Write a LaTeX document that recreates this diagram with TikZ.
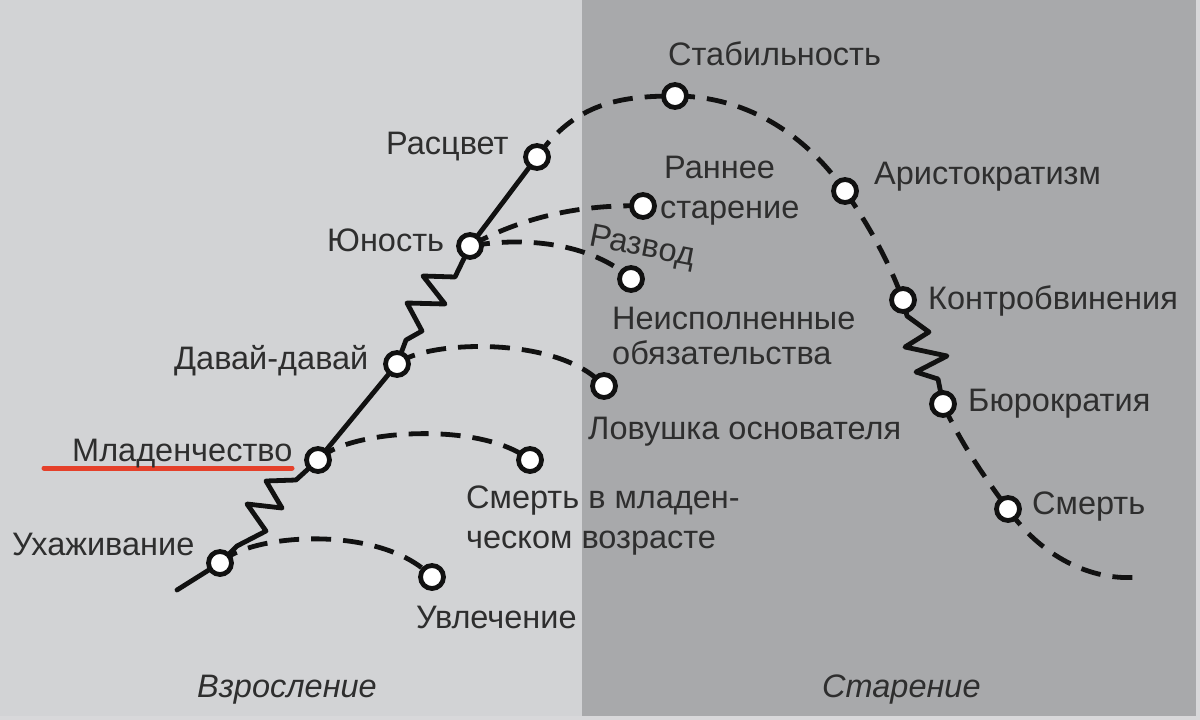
\documentclass[tikz,border=0pt]{standalone}
\usepackage{fontspec}
\setmainfont{Liberation Sans}
\definecolor{bgl}{HTML}{D2D3D5}
\definecolor{bgr}{HTML}{A8A9AB}
\definecolor{edge}{HTML}{D8D8DA}
\definecolor{txt}{HTML}{2E2E2E}
\definecolor{ink}{HTML}{111111}
\definecolor{redline}{HTML}{E5402A}
\pgfdeclarelayer{back}
\pgfdeclarelayer{bg}
\pgfsetlayers{back,bg,main}
\tikzset{
  dot/.style={circle,fill=white,draw=ink,line width=4.8pt,minimum size=23pt,inner sep=0pt},
  lbl/.style={font=\fontsize{32.5}{36}\selectfont,text=txt,inner sep=0pt,anchor=base west},
  ital/.style={font=\fontsize{32.5}{36}\selectfont\itshape,text=txt,inner sep=0pt,anchor=base west},
  solidline/.style={draw=ink,line width=4.8pt,line cap=round,line join=round},
  dashline/.style={draw=ink,line width=4.8pt,dash pattern=on 20pt off 12pt},
}
\begin{document}
\begin{tikzpicture}[x=1pt,y=-1pt]
\useasboundingbox (0,0) rectangle (1200,720);
\begin{pgfonlayer}{back}
\fill[edge] (0,0) rectangle (1200,720);
\fill[bgl] (0,0) rectangle (582,716);
\fill[bgr] (582,0) rectangle (1196,716);
\end{pgfonlayer}

% nodes
\coordinate (st) at (177,590);
\node[dot] (uh) at (220,563) {};
\node[dot] (uv) at (432,577) {};
\node[dot] (ml) at (318,460) {};
\node[dot] (sm1) at (530,460) {};
\node[dot] (dd) at (397,364) {};
\node[dot] (lo) at (604,386) {};
\node[dot] (yu) at (470,246) {};
\node[dot] (rs) at (643,206) {};
\node[dot] (rz) at (631,279) {};
\node[dot] (ra) at (537,157) {};
\node[dot] (sb) at (675,96) {};
\node[dot] (ar) at (845,191) {};
\node[dot] (ko) at (903,300) {};
\node[dot] (bu) at (943,404) {};
\node[dot] (sm) at (1008,509) {};
\coordinate (en) at (1140,577);

\begin{pgfonlayer}{bg}
% main growth line
\draw[solidline] (st) -- (uh.center) -- (237,546) -- (266,531) -- (247,504) -- (282,508) -- (266,481) -- (296,480) -- (ml.center) -- (dd.center)
  -- (406,340) -- (422,331) -- (407,303) -- (445,304) -- (423,276) -- (455,277) -- (yu.center) -- (ra.center);
% side branches
\draw[dashline] (uh.center) .. controls (250,533) and (382,524) .. (uv.center);
\draw[dashline] (ml.center) .. controls (345,430) and (480,420) .. (sm1.center);
\draw[dashline] (dd.center) .. controls (425,340) and (560,335) .. (lo.center);
\draw[dashline] (yu.center) .. controls (520,218) and (580,204) .. (rs.center);
\draw[dashline] (yu.center) .. controls (540,234) and (600,250) .. (rz.center);
% ageing curve
\draw[dashline] (ra.center) .. controls (575,103) and (620,96) .. (sb.center);
\draw[dashline] (sb.center) .. controls (750,96) and (808,138) .. (ar.center);
\draw[dashline] (ar.center) .. controls (872,230) and (890,265) .. (ko.center);
\draw[solidline] (ko.center) -- (907,316) -- (929,332) -- (905,347) -- (947,356) -- (916,372) -- (938,379) -- (bu.center);
\draw[dashline] (bu.center) .. controls (960,442) and (985,478) .. (sm.center);
\draw[dashline] (sm.center) .. controls (1040,555) and (1090,582) .. (en);
\end{pgfonlayer}

% red underline
\draw[redline,line width=5pt,line cap=round] (44,468) -- (292,468);

% labels
\node[lbl] (t-sb) at (668,65) {Стабильность};
\node[lbl] (t-ra) at (386,154) {Расцвет};
\node[lbl] (t-rs1) at (664,178) {Раннее};
\node[lbl] (t-rs2) at (660,218) {старение};
\node[lbl,anchor=center,rotate=-11] (t-rz) at (642,248) {Развод};
\node[lbl] (t-yu) at (327,251) {Юность};
\node[lbl] (t-ne1) at (612,329) {Неисполненные};
\node[lbl] (t-ne2) at (612,364) {обязательства};
\node[lbl] (t-dd) at (174,369) {Давай-давай};
\node[lbl] (t-lo) at (588,439) {Ловушка основателя};
\node[lbl] (t-ml) at (72,461) {Младенчество};
\node[lbl] (t-sm1) at (466,508) {Смерть в младен-};
\node[lbl] (t-sm2) at (466,548) {ческом возрасте};
\node[lbl] (t-uh) at (12,555) {Ухаживание};
\node[lbl] (t-uv) at (416,628) {Увлечение};
\node[lbl] (t-ar) at (874,184) {Аристократизм};
\node[lbl] (t-ko) at (928,309) {Контробвинения};
\node[lbl] (t-bu) at (968,411) {Бюрократия};
\node[lbl] (t-sm) at (1032,514) {Смерть};
\node[ital] (t-vz) at (197,697) {Взросление};
\node[ital] (t-st) at (822,697) {Старение};
\end{tikzpicture}
\end{document}
